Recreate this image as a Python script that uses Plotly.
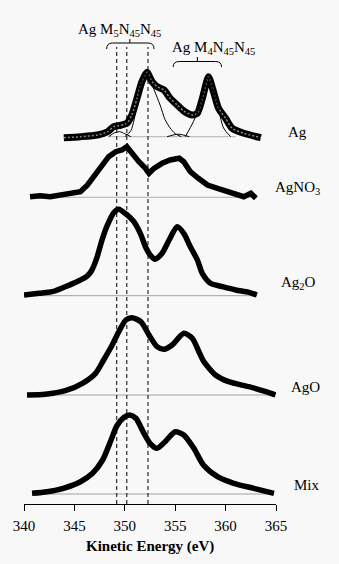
import plotly.graph_objects as go

# ---------------- data (kinetic energy eV, intensity in arbitrary units) ----------------
ag_x = [343.95, 345.6, 347.3, 348.3, 348.9, 349.4, 350.2, 350.7, 351.2, 351.7, 352.2, 352.7,
        353.2, 353.9, 354.5, 355.2, 355.85, 356.7, 357.2, 357.7, 358.3, 358.8, 359.3, 360.0,
        360.65, 361.8, 363.5]
ag_y = [-1, 0, 1.7, 5, 10, 11, 13.4, 21.7, 38, 55, 64.4, 55,
        50, 46.7, 38.4, 31.7, 25.7, 21.7, 23.4, 38.4, 60, 45, 28.4, 18.4,
        8.4, 3.4, -1]

ag_fit1_x = [350.0, 350.6, 351.2, 351.7, 352.2, 352.7, 353.5, 354.0, 354.5, 355.0, 355.6]
ag_fit1_y = [0, 6, 31, 55, 64, 52, 31.7, 17, 8.7, 3, 0]
ag_fit2_x = [356.0, 356.8, 357.5, 357.9, 358.3, 358.7, 359.2, 359.8, 360.5]
ag_fit2_y = [0, 15, 31.7, 48, 60, 48, 31.7, 8.7, 0]
ag_fit3_x = [348.4, 349.0, 349.5, 350.0, 350.6]
ag_fit3_y = [0, 4, 5, 3, 0]
ag_fit4_x = [354.2, 355.3, 356.4]
ag_fit4_y = [0, 2.5, 0]

agno3_x = [340.6, 341.6, 342.6, 343.6, 344.6, 345.6, 346.3, 347.1, 347.8, 348.4, 349.1, 349.7,
           350.2, 350.7, 351.4, 352.05, 352.4, 352.9, 353.7, 354.5, 355.4, 355.85, 356.5,
           357.3, 358.2, 359.2, 360.2, 361.2, 361.8, 362.5, 363.0]
agno3_y = [0.6, 1.6, 0.6, 2.3, 3, 5.6, 12.3, 22.3, 32.3, 40.6, 45.6, 47.3,
           50.6, 44, 35.6, 29, 24, 29, 34, 37.3, 39, 35.6, 25.6,
           19, 12.3, 9, 5.6, 3, 0.6, 4, -1]

ag2o_x = [340.0, 341.5, 342.8, 344.1, 345.4, 346.2, 346.7, 347.2, 347.75, 348.25, 348.9,
          349.4, 350.2, 350.9, 351.55, 352.05, 352.5, 353.0, 353.7, 354.4, 355.2, 355.85,
          356.5, 357.2, 357.7, 358.5, 359.7, 361.0, 362.3, 363.1]
ag2o_y = [0.7, 2.4, 4, 9, 14.7, 19, 25, 37, 56, 70, 83,
          86.5, 81, 74, 62, 49, 41, 36.5, 42.4, 55.7, 69, 62.4,
          49, 35.7, 22, 12.4, 9, 5.7, 3.4, 0.7]

ago_x = [340.3, 342.1, 344.1, 345.8, 347.1, 347.9, 348.75, 349.4, 350.1, 350.7, 351.6, 352.4,
         353.2, 353.9, 354.7, 355.85, 356.7, 357.35, 357.8, 359.0, 360.3, 362.3, 364.0, 364.95]
ago_y = [0, 0.7, 4.3, 11.7, 21.7, 35, 50, 63.3, 75, 77.3, 73.3, 60,
         48.3, 45.7, 50, 61.7, 56.7, 43.3, 34, 20, 13.3, 8.3, 3.3, 0]

mix_x = [340.8, 342.3, 343.9, 345.6, 346.8, 347.8, 348.6, 349.2, 349.9, 350.5, 351.1, 351.9,
         352.5, 353.2, 354.0, 355.0, 355.85, 356.85, 357.8, 359.2, 360.8, 362.8, 364.8]
mix_y = [0.7, 2.3, 5.7, 12.3, 20.7, 34, 53, 68, 76.5, 79, 75.7, 60.7,
         50.7, 45.7, 52.3, 62.3, 59, 45.7, 29, 17.3, 10.7, 5.7, 0.7]

ref_lines = [349.2, 350.2, 352.3]
sample_names = ["Ag", "AgNO<sub>3</sub>", "Ag<sub>2</sub>O", "AgO", "Mix"]
tick_vals = [340, 345, 350, 355, 360, 365]
tick_text = ["340", "345", "350", "355", "360", "365"]

# ---------------- layout parameters ----------------
offsets = [367.3, 306.7, 208.3, 109.0, 10.0]   # vertical stacking offsets
SERIF = "Liberation Serif"

fig = go.Figure()

def add_baseline(xs, off, color="#b0b0b0"):
    fig.add_trace(go.Scatter(x=[xs[0], xs[-1]], y=[off, off], mode="lines",
                             line=dict(color=color, width=1), hoverinfo="skip"))

def shifted(ys, off):
    return [v + off for v in ys]

# Ag (marker-like thick chain)
add_baseline([348.4, 361.0], offsets[0])
fig.add_trace(go.Scatter(x=ag_x, y=shifted(ag_y, offsets[0]), mode="lines",
                         line=dict(color="black", width=7, shape="spline", smoothing=0.6)))
fig.add_trace(go.Scatter(x=ag_x, y=shifted(ag_y, offsets[0]), mode="lines",
                         line=dict(color="#8a8a8a", width=1.5, shape="spline", smoothing=0.6, dash="2px,2px")))
for fx, fy in [(ag_fit1_x, ag_fit1_y), (ag_fit2_x, ag_fit2_y), (ag_fit3_x, ag_fit3_y), (ag_fit4_x, ag_fit4_y)]:
    fig.add_trace(go.Scatter(x=fx, y=shifted(fy, offsets[0]), mode="lines",
                             line=dict(color="black", width=1, shape="spline", smoothing=0.8)))

# AgNO3 (noisy)
add_baseline(agno3_x, offsets[1])
fig.add_trace(go.Scatter(x=agno3_x, y=shifted(agno3_y, offsets[1]), mode="lines",
                         line=dict(color="black", width=5.5)))

# Ag2O, AgO, Mix (smooth)
for xs, ys, off in [(ag2o_x, ag2o_y, offsets[2]), (ago_x, ago_y, offsets[3]), (mix_x, mix_y, offsets[4])]:
    add_baseline(xs, off, "#a0a0a0")
    fig.add_trace(go.Scatter(x=xs, y=shifted(ys, off), mode="lines",
                             line=dict(color="black", width=5.5, shape="spline", smoothing=0.7)))

shapes = []
for xv in ref_lines:
    shapes.append(dict(type="line", xref="x", yref="y", x0=xv, x1=xv, y0=0, y1=457,
                       line=dict(color="black", width=1, dash="4px,3px")))
# brackets
shapes.append(dict(type="path", xref="x", yref="y",
                   path="M 348.2,455 Q 348.2,461 348.8,461 L 352.3,461 Q 352.9,461 352.9,455",
                   line=dict(color="black", width=1)))
shapes.append(dict(type="line", xref="x", yref="y", x0=350.5, x1=350.5, y0=461, y1=465,
                   line=dict(color="black", width=1)))
shapes.append(dict(type="path", xref="x", yref="y",
                   path="M 354.8,437 Q 354.8,442.5 355.4,442.5 L 359.0,442.5 Q 359.6,442.5 359.6,437",
                   line=dict(color="black", width=1)))
shapes.append(dict(type="line", xref="x", yref="y", x0=357.2, x1=357.2, y0=442.5, y1=447,
                   line=dict(color="black", width=1)))

annotations = []
annotations.append(dict(x=349.5, y=474, xref="x", yref="y", showarrow=False,
                        text="Ag M<sub>5</sub>N<sub>45</sub>N<sub>45</sub>",
                        font=dict(family=SERIF, size=15, color="black")))
annotations.append(dict(x=358.75, y=456, xref="x", yref="y", showarrow=False,
                        text="Ag M<sub>4</sub>N<sub>45</sub>N<sub>45</sub>",
                        font=dict(family=SERIF, size=15, color="black")))
label_px = [(297, 131.7), (297, 188), (298, 283), (305, 386.7), (306.7, 485)]
for name, (px, py) in zip(sample_names, label_px):
    annotations.append(dict(x=(px - 24) / 252, y=504 - py, xref="paper", yref="y",
                            showarrow=False, text=name, xanchor="center", yanchor="middle",
                            font=dict(family=SERIF, size=15, color="black")))
annotations.append(dict(x=0.5, y=-42.7 / 504, xref="paper", yref="paper", showarrow=False,
                        text="<b>Kinetic Energy (eV)</b>", yanchor="middle",
                        font=dict(family=SERIF, size=15, color="black")))

fig.update_layout(
    width=339, height=564,
    margin=dict(l=24, r=63, t=0, b=60),
    paper_bgcolor="#f8f8f8", plot_bgcolor="#f8f8f8",
    showlegend=False,
    font=dict(family=SERIF),
    shapes=shapes, annotations=annotations,
    xaxis=dict(range=[340, 365], tickvals=tick_vals, ticktext=tick_text,
               showgrid=False, zeroline=False, showline=True, linecolor="black", linewidth=1,
               ticks="outside", ticklen=6, tickwidth=1, tickcolor="black",
               tickfont=dict(family=SERIF, size=15, color="black"), ticklabelstandoff=2),
    yaxis=dict(range=[0, 504], visible=False, showgrid=False, zeroline=False),
)

fig.write_html("out.html")
